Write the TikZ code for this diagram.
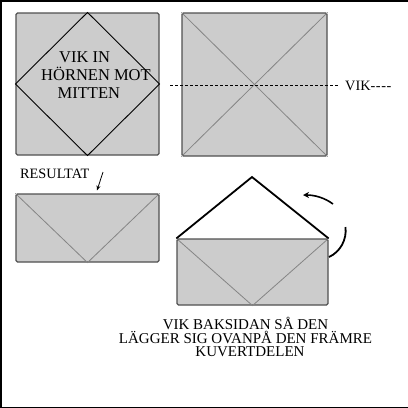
\documentclass[tikz,border=0pt]{standalone}
\usepackage{fontspec}
\setmainfont{Liberation Serif}
\usetikzlibrary{arrows.meta}
\definecolor{paper}{HTML}{CCCCCC}
\definecolor{edge}{HTML}{505050}
\definecolor{fold}{HTML}{858585}
\begin{document}
\begin{tikzpicture}[x=1pt,y=-1pt,
  sheet/.style={draw=edge,fill=paper,line width=1.2pt,rounded corners=1.5pt,inner sep=0,minimum width=#1},
  foldline/.style={draw=fold,line width=0.8pt},
  sqlbl/.style={inner sep=0,font=\fontsize{16.5}{18}\selectfont},
  lbl/.style={inner sep=0,font=\fontsize{14.3}{17}\selectfont},
  biglbl/.style={inner sep=0,font=\fontsize{15}{12}\selectfont}]
\useasboundingbox (0,0) rectangle (408,408);
\fill[white] (0,0) rectangle (408,408);
% frame
\draw[line width=1.5pt] (0,0.75) -- (408,0.75);
\draw[line width=1.5pt] (0.75,0) -- (0.75,408);
\draw[line width=1.5pt] (0,407.25) -- (408,407.25);
% square 1
\node[sheet=143pt,minimum height=142pt] (s1) at (87.5,84) {};
\draw[line width=0.9pt] (s1.north) -- (s1.east) -- (s1.south) -- (s1.west) -- cycle;
\node[sqlbl,anchor=base west] (t1) at (59,62) {VIK IN};
\node[sqlbl,anchor=base west] (t2) at (41,80.5) {HÖRNEN MOT};
\node[sqlbl,anchor=base west] (t3) at (57.5,98) {MITTEN};
% square 2
\node[sheet=145pt,minimum height=143pt] (s2) at (254.5,84.5) {};
\draw[foldline] (s2.north west) -- (s2.south east);
\draw[foldline] (s2.north east) -- (s2.south west);
\coordinate (dl) at (170,85);
\coordinate (dr) at (338,85);
\node[lbl,anchor=base west] (vik) at (345,90) {VIK{-}\kern0.6pt{-}\kern0.6pt{-}\kern0.6pt{-}};
\draw[line width=0.9pt,dash pattern=on 3.3pt off 1.7pt] (dl) -- (dr);
% rect 3
\node[sheet=143pt,minimum height=68pt] (r3) at (87.5,228) {};
\draw[foldline] (r3.north west) -- (r3.south) -- (r3.north east);
\node[lbl,anchor=base west] (res) at (20,178) {RESULTAT};
\coordinate (ra) at (103,172);
\coordinate (rb) at (97,190.5);
\draw[line width=0.8pt,-{Stealth[length=5pt,width=4pt]}] (ra) -- (rb);
% rect 4
\node[sheet=151pt,minimum height=66pt] (r4) at (252.5,272) {};
\draw[foldline] (r4.north west) -- (r4.south) -- (r4.north east);
\coordinate (apex) at (252,177);
\draw[line width=1.8pt,line join=miter] (r4.north west) -- (apex) -- (r4.north east);
% curved arrows
\coordinate (c1) at (333,204);
\coordinate (c2) at (303,195);
\draw[line width=1.6pt,-{Stealth[length=6pt,width=6pt,open]}] (c1) .. controls (325,198) and (315,195) .. (c2);
\coordinate (c3) at (345.5,227);
\coordinate (c4) at (329,257);
\draw[line width=1.8pt] (c3) .. controls (347,240) and (340,252) .. (c4);
% bottom text
\node[biglbl,anchor=base] (b1) at (245.5,329.5) {VIK BAKSIDAN SÅ DEN};
\node[biglbl,anchor=base] (b2) at (245.5,343) {LÄGGER SIG OVANPÅ DEN FRÄMRE};
\node[biglbl,anchor=base] (b3) at (250,356.5) {KUVERTDELEN};
\end{tikzpicture}
\end{document}
